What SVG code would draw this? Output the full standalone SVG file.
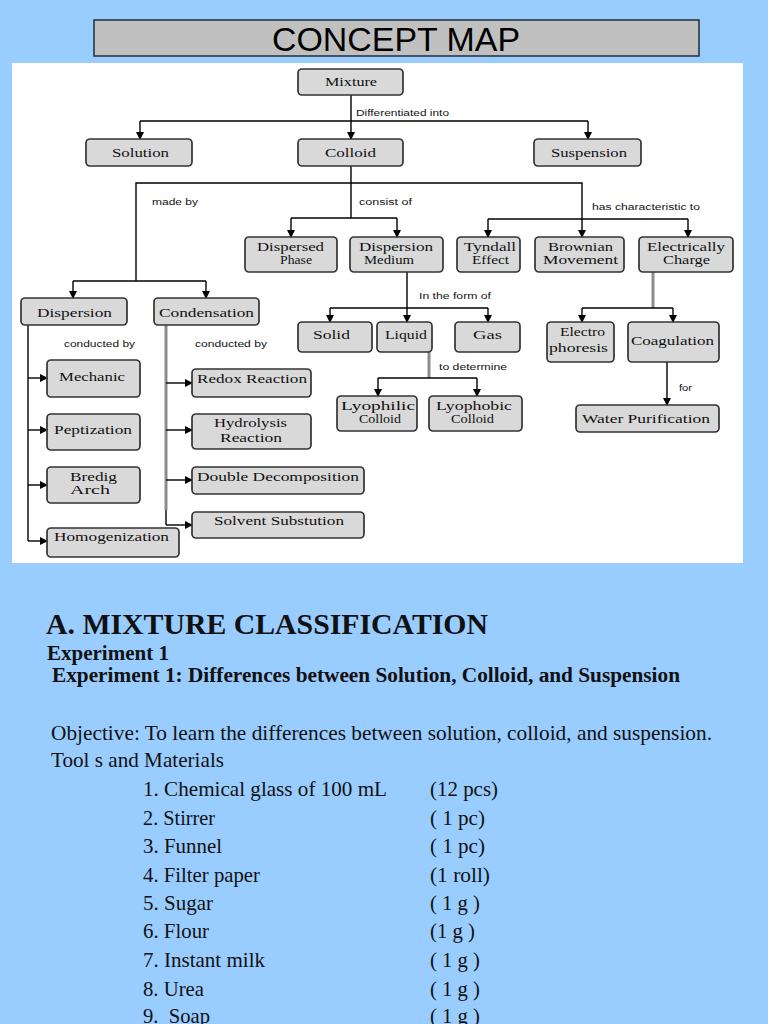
<svg xmlns="http://www.w3.org/2000/svg" width="768" height="1024" viewBox="0 0 768 1024">
<defs>
<marker id="ah" markerUnits="userSpaceOnUse" markerWidth="8" markerHeight="8" refX="7" refY="4" orient="auto">
<path d="M0,0 L8,4 L0,8 z" fill="#000"/>
</marker>
<style>
.box{fill:#d9d9d9;stroke:#333;stroke-width:1.7}
.nt{font-family:"Liberation Serif",serif;font-size:12.5px;fill:#111}
.lb{font-family:"Liberation Sans",sans-serif;font-size:8.5px;fill:#111}
.ln{fill:none;stroke:#000;stroke-width:1.4}
.lna{fill:none;stroke:#000;stroke-width:1.4;marker-end:url(#ah)}
.gr{fill:none;stroke:#8c8c8c;stroke-width:3}
.body{font-family:"Liberation Serif",serif;font-size:21px;fill:#111}
.bold{font-family:"Liberation Serif",serif;font-size:20px;font-weight:bold;fill:#111}
</style>
</defs>
<rect x="0" y="0" width="768" height="1024" fill="#99ccff"/>
<g id="header">
<rect x="94" y="20" width="605" height="36" fill="#c0c0c0" stroke="#1f2d3a" stroke-width="1.5"/>
<text x="396" y="51" text-anchor="middle" font-family="Liberation Sans, sans-serif" font-size="33" fill="#000" textLength="248" lengthAdjust="spacingAndGlyphs">CONCEPT MAP</text>
</g>
<rect x="12" y="63" width="731" height="500" fill="#ffffff"/>

<g id="connectors">
<path class="lna" d="M351,95 V139"/>
<path class="ln" d="M140,121 H588"/>
<path class="lna" d="M140,121 V139"/>
<path class="lna" d="M588,121 V139"/>
<path class="ln" d="M351,166 V218"/>
<path class="lna" d="M136,281 V183 H582 V237"/>
<path class="ln" d="M291,218 H397"/>
<path class="lna" d="M291,218 V237"/>
<path class="lna" d="M397,218 V237"/>
<path class="ln" d="M488,219 H688"/>
<path class="lna" d="M488,219 V237"/>
<path class="lna" d="M688,219 V237"/>
<path class="ln" d="M73,281 H206"/>
<path class="lna" d="M73,281 V298"/>
<path class="lna" d="M206,281 V298"/>
<path class="ln" d="M28,325 V541"/>
<path class="lna" d="M28,378 H47"/>
<path class="lna" d="M28,430 H47"/>
<path class="lna" d="M28,485 H47"/>
<path class="lna" d="M28,541 H47"/>
<path class="gr" d="M166,325 V510"/>
<path class="ln" d="M166,510 V525"/>
<path class="lna" d="M166,383 H192"/>
<path class="lna" d="M166,430 H192"/>
<path class="lna" d="M166,480 H192"/>
<path class="lna" d="M166,525 H192"/>
<path class="lna" d="M407,272 V322"/>
<path class="ln" d="M330,308 H488"/>
<path class="lna" d="M330,308 V322"/>
<path class="lna" d="M488,308 V322"/>
<path class="gr" d="M429,352 V378"/>
<path class="ln" d="M378,378 H477"/>
<path class="lna" d="M378,378 V396"/>
<path class="lna" d="M477,378 V396"/>
<path class="gr" d="M653,272 V308"/>
<path class="ln" d="M582,308 H673"/>
<path class="lna" d="M582,308 V322"/>
<path class="lna" d="M673,308 V322"/>
<path class="lna" d="M667,362 V405"/>
</g>

<g id="labels">
<text class="lb" x="356" y="116" textLength="93" lengthAdjust="spacingAndGlyphs">Differentiated into</text>
<text class="lb" x="152" y="205" textLength="46" lengthAdjust="spacingAndGlyphs">made by</text>
<text class="lb" x="359" y="205" textLength="53" lengthAdjust="spacingAndGlyphs">consist of</text>
<text class="lb" x="592" y="210" textLength="108" lengthAdjust="spacingAndGlyphs">has characteristic to</text>
<text class="lb" x="64" y="347" textLength="71" lengthAdjust="spacingAndGlyphs">conducted by</text>
<text class="lb" x="195" y="347" textLength="72" lengthAdjust="spacingAndGlyphs">conducted by</text>
<text class="lb" x="419" y="299" textLength="72" lengthAdjust="spacingAndGlyphs">In the form of</text>
<text class="lb" x="439" y="370" textLength="68" lengthAdjust="spacingAndGlyphs">to determine</text>
<text class="lb" x="679" y="391" textLength="13" lengthAdjust="spacingAndGlyphs">for</text>
</g>

<g id="n-mixture"><rect class="box" x="298" y="69" width="105" height="26" rx="4"/><text class="nt" x="325" y="86" textLength="52" lengthAdjust="spacingAndGlyphs">Mixture</text></g>
<g id="n-solution"><rect class="box" x="86" y="139" width="106" height="27" rx="4"/><text class="nt" x="112" y="157" textLength="57" lengthAdjust="spacingAndGlyphs">Solution</text></g>
<g id="n-colloid"><rect class="box" x="298" y="139" width="105" height="27" rx="4"/><text class="nt" x="325" y="157" textLength="51" lengthAdjust="spacingAndGlyphs">Colloid</text></g>
<g id="n-suspension"><rect class="box" x="534" y="139" width="107" height="27" rx="4"/><text class="nt" x="551" y="157" textLength="76" lengthAdjust="spacingAndGlyphs">Suspension</text></g>
<g id="n-dispersed-phase"><rect class="box" x="245" y="237" width="92" height="35" rx="4"/><text class="nt" x="257" y="251" textLength="67" lengthAdjust="spacingAndGlyphs">Dispersed</text><text class="nt" x="280" y="264" textLength="32" lengthAdjust="spacingAndGlyphs">Phase</text></g>
<g id="n-dispersion-medium"><rect class="box" x="350" y="237" width="93" height="35" rx="4"/><text class="nt" x="359" y="251" textLength="74" lengthAdjust="spacingAndGlyphs">Dispersion</text><text class="nt" x="364" y="264" textLength="50" lengthAdjust="spacingAndGlyphs">Medium</text></g>
<g id="n-tyndall"><rect class="box" x="457" y="237" width="63" height="35" rx="4"/><text class="nt" x="464" y="251" textLength="52" lengthAdjust="spacingAndGlyphs">Tyndall</text><text class="nt" x="472" y="264" textLength="37" lengthAdjust="spacingAndGlyphs">Effect</text></g>
<g id="n-brownian"><rect class="box" x="535" y="237" width="89" height="35" rx="4"/><text class="nt" x="548" y="251" textLength="65" lengthAdjust="spacingAndGlyphs">Brownian</text><text class="nt" x="543" y="264" textLength="75" lengthAdjust="spacingAndGlyphs">Movement</text></g>
<g id="n-electrically"><rect class="box" x="639" y="237" width="94" height="35" rx="4"/><text class="nt" x="647" y="251" textLength="78" lengthAdjust="spacingAndGlyphs">Electrically</text><text class="nt" x="663" y="264" textLength="47" lengthAdjust="spacingAndGlyphs">Charge</text></g>
<g id="n-dispersion"><rect class="box" x="21" y="298" width="106" height="27" rx="4"/><text class="nt" x="37" y="317" textLength="75" lengthAdjust="spacingAndGlyphs">Dispersion</text></g>
<g id="n-condensation"><rect class="box" x="154" y="298" width="105" height="27" rx="4"/><text class="nt" x="159" y="317" textLength="95" lengthAdjust="spacingAndGlyphs">Condensation</text></g>
<g id="n-solid"><rect class="box" x="298" y="322" width="74" height="30" rx="4"/><text class="nt" x="313" y="339" textLength="37" lengthAdjust="spacingAndGlyphs">Solid</text></g>
<g id="n-liquid"><rect class="box" x="377" y="322" width="55" height="30" rx="4"/><text class="nt" x="385" y="339" textLength="42" lengthAdjust="spacingAndGlyphs">Liquid</text></g>
<g id="n-gas"><rect class="box" x="455" y="322" width="65" height="30" rx="4"/><text class="nt" x="473" y="339" textLength="29" lengthAdjust="spacingAndGlyphs">Gas</text></g>
<g id="n-electrophoresis"><rect class="box" x="547" y="322" width="67" height="40" rx="4"/><text class="nt" x="560" y="336" textLength="45" lengthAdjust="spacingAndGlyphs">Electro</text><text class="nt" x="549" y="352" textLength="59" lengthAdjust="spacingAndGlyphs">phoresis</text></g>
<g id="n-coagulation"><rect class="box" x="628" y="322" width="91" height="40" rx="4"/><text class="nt" x="631" y="345" textLength="83" lengthAdjust="spacingAndGlyphs">Coagulation</text></g>
<g id="n-lyophilic"><rect class="box" x="337" y="396" width="80" height="35" rx="4"/><text class="nt" x="341" y="410" textLength="74" lengthAdjust="spacingAndGlyphs">Lyophilic</text><text class="nt" x="359" y="423" textLength="42" lengthAdjust="spacingAndGlyphs">Colloid</text></g>
<g id="n-lyophobic"><rect class="box" x="429" y="396" width="93" height="35" rx="4"/><text class="nt" x="436" y="410" textLength="76" lengthAdjust="spacingAndGlyphs">Lyophobic</text><text class="nt" x="451" y="423" textLength="43" lengthAdjust="spacingAndGlyphs">Colloid</text></g>
<g id="n-water"><rect class="box" x="576" y="405" width="143" height="27" rx="4"/><text class="nt" x="582" y="423" textLength="128" lengthAdjust="spacingAndGlyphs">Water Purification</text></g>
<g id="n-mechanic"><rect class="box" x="47" y="360" width="93" height="37" rx="4"/><text class="nt" x="59" y="381" textLength="66" lengthAdjust="spacingAndGlyphs">Mechanic</text></g>
<g id="n-peptization"><rect class="box" x="47" y="414" width="93" height="36" rx="4"/><text class="nt" x="54" y="434" textLength="78" lengthAdjust="spacingAndGlyphs">Peptization</text></g>
<g id="n-bredig"><rect class="box" x="47" y="467" width="93" height="36" rx="4"/><text class="nt" x="70" y="481" textLength="47" lengthAdjust="spacingAndGlyphs">Bredig</text><text class="nt" x="70" y="494" textLength="40" lengthAdjust="spacingAndGlyphs">Arch</text></g>
<g id="n-homogenization"><rect class="box" x="47" y="528" width="132" height="29" rx="4"/><text class="nt" x="54" y="541" textLength="115" lengthAdjust="spacingAndGlyphs">Homogenization</text></g>
<g id="n-redox"><rect class="box" x="192" y="369" width="119" height="28" rx="4"/><text class="nt" x="197" y="383" textLength="110" lengthAdjust="spacingAndGlyphs">Redox Reaction</text></g>
<g id="n-hydrolysis"><rect class="box" x="192" y="414" width="119" height="35" rx="4"/><text class="nt" x="214" y="427" textLength="73" lengthAdjust="spacingAndGlyphs">Hydrolysis</text><text class="nt" x="220" y="442" textLength="62" lengthAdjust="spacingAndGlyphs">Reaction</text></g>
<g id="n-double"><rect class="box" x="192" y="467" width="172" height="27" rx="4"/><text class="nt" x="197" y="481" textLength="162" lengthAdjust="spacingAndGlyphs">Double Decomposition</text></g>
<g id="n-solvent"><rect class="box" x="192" y="512" width="172" height="26" rx="4"/><text class="nt" x="214" y="525" textLength="130" lengthAdjust="spacingAndGlyphs">Solvent Substution</text></g>

<g id="text-section">
<text x="46" y="634" font-family="Liberation Serif, serif" font-size="30" font-weight="bold" fill="#111" textLength="442" lengthAdjust="spacingAndGlyphs">A. MIXTURE CLASSIFICATION</text>
<text class="bold" x="47" y="660" textLength="122" lengthAdjust="spacingAndGlyphs">Experiment 1</text>
<text class="bold" x="52" y="682" textLength="628" lengthAdjust="spacingAndGlyphs">Experiment 1: Differences between Solution, Colloid, and Suspension</text>
<text class="body" x="51" y="740" textLength="661" lengthAdjust="spacingAndGlyphs">Objective: To learn the differences between solution, colloid, and suspension.</text>
<text class="body" x="51" y="767" textLength="173" lengthAdjust="spacingAndGlyphs">Tool s and Materials</text>
<text class="body" x="143" y="796" textLength="244" lengthAdjust="spacingAndGlyphs">1. Chemical glass of 100 mL</text>
<text class="body" x="143" y="825" textLength="72" lengthAdjust="spacingAndGlyphs">2. Stirrer</text>
<text class="body" x="143" y="853" textLength="79" lengthAdjust="spacingAndGlyphs">3. Funnel</text>
<text class="body" x="143" y="882" textLength="117" lengthAdjust="spacingAndGlyphs">4. Filter paper</text>
<text class="body" x="143" y="910" textLength="70" lengthAdjust="spacingAndGlyphs">5. Sugar</text>
<text class="body" x="143" y="938" textLength="66" lengthAdjust="spacingAndGlyphs">6. Flour</text>
<text class="body" x="143" y="967" textLength="122" lengthAdjust="spacingAndGlyphs">7. Instant milk</text>
<text class="body" x="143" y="996" textLength="61" lengthAdjust="spacingAndGlyphs">8. Urea</text>
<text class="body" x="143" y="1023" xml:space="preserve" textLength="67" lengthAdjust="spacingAndGlyphs">9.  Soap</text>
<text class="body" x="430" y="796" textLength="68" lengthAdjust="spacingAndGlyphs">(12 pcs)</text>
<text class="body" x="430" y="825" xml:space="preserve" textLength="55" lengthAdjust="spacingAndGlyphs">( 1 pc)</text>
<text class="body" x="430" y="853" xml:space="preserve" textLength="55" lengthAdjust="spacingAndGlyphs">( 1 pc)</text>
<text class="body" x="430" y="882" textLength="60" lengthAdjust="spacingAndGlyphs">(1 roll)</text>
<text class="body" x="430" y="910" textLength="50" lengthAdjust="spacingAndGlyphs">( 1 g )</text>
<text class="body" x="430" y="938" textLength="45" lengthAdjust="spacingAndGlyphs">(1 g )</text>
<text class="body" x="430" y="967" textLength="50" lengthAdjust="spacingAndGlyphs">( 1 g )</text>
<text class="body" x="430" y="996" textLength="50" lengthAdjust="spacingAndGlyphs">( 1 g )</text>
<text class="body" x="430" y="1023" textLength="50" lengthAdjust="spacingAndGlyphs">( 1 g )</text>
</g>
</svg>
